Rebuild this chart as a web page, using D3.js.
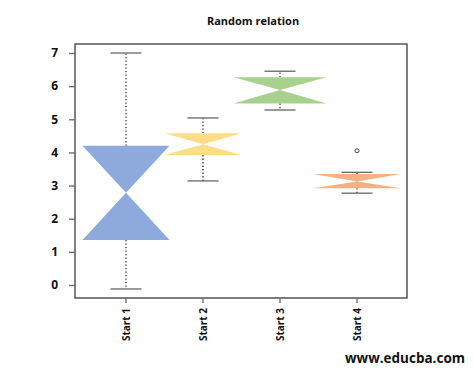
<!DOCTYPE html>
<html>
<head>
<meta charset="utf-8">
<script src="https://cdn.jsdelivr.net/npm/d3@7"></script>
<style>
  body { margin: 0; background: #fff; }
  text { font-family: "Open Sans", "DejaVu Sans", sans-serif; }
</style>
</head>
<body>
<script>
// box stats
const categories = ["Start 1", "Start 2", "Start 3", "Start 4"];
const mins    = [-0.12, 3.14, 5.28, 2.77];
const q1s     = [1.36, 3.92, 5.48, 2.92];
const medians = [2.78, 4.25, 5.88, 3.12];
const q3s     = [4.20, 4.58, 6.27, 3.35];
const maxs    = [7.00, 5.04, 6.45, 3.40];
const outliers = [[], [], [], [4.05]];
const yTicks = [0, 1, 2, 3, 4, 5, 6, 7];

const fills = ["#8eaadc", "#ffdd88", "#a9d18e", "#f4b183"];
const boxW = [87, 77, 93, 88];

const width = 474, height = 370;
const frame = { left: 75, top: 44, right: 407, bottom: 298 };

const svg = d3.select("body").append("svg")
    .attr("width", width)
    .attr("height", height);

const x = d3.scaleBand().domain(categories).range([87.5, 395.5]);
const y = d3.scaleLinear().domain([0, 7]).range([285, 53]);
const cx = c => x(c) + x.bandwidth() / 2;

const boxes = categories.map((c, i) => ({
  c, min: mins[i], q1: q1s[i], med: medians[i], q3: q3s[i], max: maxs[i],
  out: outliers[i], fill: fills[i], w: boxW[i]
}));

// whiskers (dotted)
const g = svg.append("g");
boxes.forEach(b => {
  const xc = cx(b.c);
  [[b.q3, b.max], [b.q1, b.min]].forEach(([a, e]) => {
    g.append("line")
      .attr("x1", xc).attr("x2", xc)
      .attr("y1", y(a)).attr("y2", y(e))
      .attr("stroke", "#333").attr("stroke-width", 1.3)
      .attr("stroke-dasharray", "1.3,2.2");
  });
  [b.max, b.min].forEach(v => {
    g.append("line")
      .attr("x1", xc - 15.5).attr("x2", xc + 15.5)
      .attr("y1", y(v)).attr("y2", y(v))
      .attr("stroke", "#666").attr("stroke-width", 1.3);
  });
});

// notched boxes (notch reaches the median)
boxes.forEach(b => {
  const xc = cx(b.c), h = b.w / 2;
  const pts = [
    [xc - h, y(b.q3)], [xc + h, y(b.q3)], [xc, y(b.med)],
    [xc + h, y(b.q1)], [xc - h, y(b.q1)], [xc, y(b.med)]
  ];
  g.append("polygon")
    .attr("points", pts.map(p => p.join(",")).join(" "))
    .attr("fill", b.fill);
  b.out.forEach(v => {
    g.append("circle")
      .attr("cx", xc).attr("cy", y(v)).attr("r", 2)
      .attr("fill", "none").attr("stroke", "#444").attr("stroke-width", 1);
  });
});

// frame
svg.append("rect")
    .attr("x", frame.left).attr("y", frame.top)
    .attr("width", frame.right - frame.left)
    .attr("height", frame.bottom - frame.top)
    .attr("fill", "none").attr("stroke", "#555").attr("stroke-width", 1.5);

// y axis
const yAxis = svg.append("g")
    .attr("transform", `translate(${frame.left},0)`)
    .call(d3.axisLeft(y).tickValues(yTicks).tickSize(6).tickPadding(11).tickFormat(d3.format("d")));
yAxis.select(".domain").remove();
yAxis.selectAll("line").attr("stroke", "#666").attr("stroke-width", 1.3);
yAxis.selectAll("text")
    .attr("font-size", 12).attr("font-weight", "bold").attr("fill", "#111")
    .attr("font-family", "'Open Sans', sans-serif");

// x axis
const xAxis = svg.append("g")
    .attr("transform", `translate(0,${frame.bottom})`)
    .call(d3.axisBottom(x).tickSize(5).tickPadding(8));
xAxis.select(".domain").remove();
xAxis.selectAll("line").attr("stroke", "#666").attr("stroke-width", 1.3);
xAxis.selectAll("text")
    .attr("font-size", 10).attr("font-weight", "bold").attr("fill", "#111")
    .attr("font-family", "'Open Sans', sans-serif")
    .attr("transform", "rotate(-90)")
    .attr("text-anchor", "end")
    .attr("dy", "0.35em")
    .attr("x", -10).attr("y", 0);

// title
svg.append("text")
    .attr("x", 253).attr("y", 25)
    .attr("text-anchor", "middle")
    .attr("font-size", 11).attr("font-weight", "bold").attr("fill", "#111")
    .text("Random relation");

// watermark
svg.append("text")
    .attr("x", 465).attr("y", 363)
    .attr("text-anchor", "end")
    .attr("font-size", 13.5).attr("font-weight", "bold").attr("fill", "#111")
    .attr("font-family", "'DejaVu Sans', sans-serif")
    .text("www.educba.com");
</script>
</body>
</html>
